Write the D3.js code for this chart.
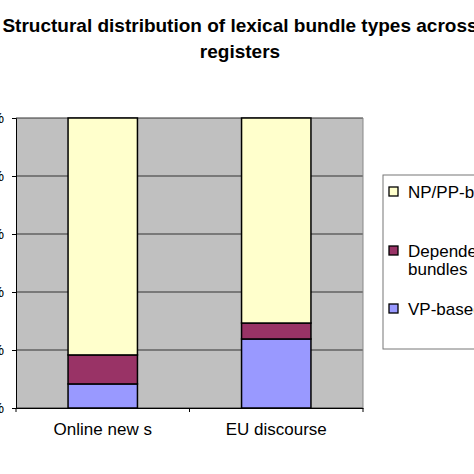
<!DOCTYPE html><html><head><meta charset="utf-8"><script src="https://cdn.jsdelivr.net/npm/d3@7"></script>
<style>body{margin:0;background:#fff}text{font-family:"Liberation Sans",Arial,sans-serif}</style></head><body><svg width="474" height="474"></svg>
<script>
const categories=["Online new s","EU discourse"];
const vpBased=[8.3,23.8];
const dependent=[10.0,5.5];
const npPP=[81.7,70.7];
const yTicks=[0,20,40,60,80,100];
const seriesNames=["VP-based bundles","Dependent clause bundles","NP/PP-based bundles"];
const colors=["#9999FF","#993366","#FFFFCC"];
const svg=d3.select("svg");
const L=16,R=363,T=118,B=408;
const x=d3.scaleBand().domain(categories).range([L,R]).paddingInner(0.6).paddingOuter(0.3);
const y=d3.scaleLinear().domain([0,100]).range([B,T]);
svg.append("rect").attr("x",L).attr("y",T).attr("width",R-L).attr("height",B-T).attr("fill","#C0C0C0");
svg.selectAll(".g").data(yTicks).join("line").attr("x1",L).attr("x2",R).attr("y1",d=>y(d)).attr("y2",d=>y(d)).attr("stroke","#333").attr("stroke-width",1);
svg.append("line").attr("x1",R).attr("x2",R).attr("y1",T).attr("y2",B).attr("stroke","#888");
const ya=svg.append("g").attr("transform",`translate(${L},0)`).call(d3.axisLeft(y).tickValues(yTicks).tickSize(4).tickFormat(d=>d+"%"));
ya.selectAll("text").attr("font-size",15).attr("fill","#000").attr("x",-12);
ya.select(".domain").attr("stroke","#000");
const xa=svg.append("g").attr("transform",`translate(0,${B})`).call(d3.axisBottom(x).tickSize(0).tickPadding(15));
xa.select(".domain").attr("stroke","#000");
xa.selectAll("text").attr("font-size",17).attr("fill","#000");
[L,(L+R)/2,R].forEach(v=>svg.append("line").attr("x1",v).attr("x2",v).attr("y1",B).attr("y2",B+4).attr("stroke","#000"));
const stack=d3.stack().keys([0,1,2]).value((d,k)=>[vpBased,dependent,npPP][k][d])(d3.range(categories.length));
stack.forEach((s,k)=>{
 svg.selectAll(null).data(s).join("rect").attr("x",(d,i)=>x(categories[i])).attr("width",x.bandwidth())
 .attr("y",d=>y(d[1])).attr("height",d=>y(d[0])-y(d[1])).attr("fill",colors[k]).attr("stroke","#000").attr("stroke-width",1.5);
});
svg.append("text").attr("x",240).attr("y",32).attr("text-anchor","middle").attr("font-size",19).attr("font-weight","bold").text("Structural distribution of lexical bundle types across");
svg.append("text").attr("x",240).attr("y",58).attr("text-anchor","middle").attr("font-size",19).attr("font-weight","bold").text("registers");
const lg=svg.append("g");
lg.append("rect").attr("x",383).attr("y",175).attr("width",120).attr("height",174).attr("fill","#fff").attr("stroke","#777");
const items=[{k:2,y:192,lines:["NP/PP-based bundles"]},{k:1,y:251,lines:["Dependent clause","bundles"]},{k:0,y:309,lines:["VP-based bundles"]}];
items.forEach(it=>{
 lg.append("rect").attr("x",389).attr("y",it.y-5).attr("width",9).attr("height",9).attr("fill",colors[it.k]).attr("stroke","#000").attr("stroke-width",1.3);
 it.lines.forEach((t,i)=>lg.append("text").attr("x",408).attr("y",it.y+6+i*18).attr("font-size",17).text(t));
});
</script></body></html>
